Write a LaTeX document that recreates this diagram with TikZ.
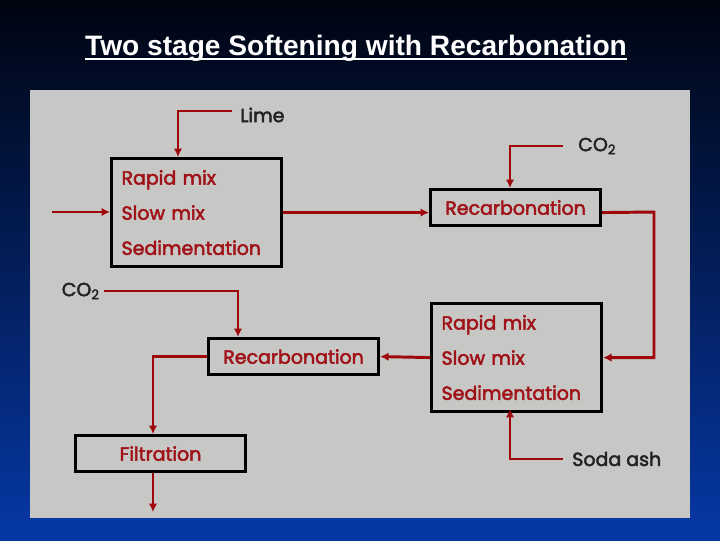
\documentclass[tikz,border=0pt]{standalone}
\usepackage{fontspec}
\setmainfont{Poppins}
\newfontfamily\titlefont{Liberation Sans}
\newfontfamily\stepfont[FakeBold=2.5]{Poppins}
\usetikzlibrary{arrows.meta,positioning}

\definecolor{pipered}{RGB}{158,8,10}
\definecolor{steptext}{RGB}{160,18,24}
\definecolor{panelgray}{RGB}{199,199,197}
\definecolor{slidetop}{RGB}{0,4,16}
\definecolor{slidebottom}{RGB}{6,56,165}
\definecolor{labeltext}{RGB}{35,35,35}

\tikzset{
  unit/.style={draw=black, line width=2.2pt, minimum width=4.25cm, anchor=north west,
    text=steptext, font=\stepfont\fontsize{13.5}{25}\selectfont, inner sep=0pt},
  multiunit/.style={unit, minimum height=2.7cm, align=left, text width=3.75cm},
  singleunit/.style={unit, minimum height=0.9cm, align=center},
  flow/.style={->, pipered, line width=2.1pt},
  feedlabel/.style={text=labeltext, font=\stepfont\fontsize{13.5}{16}\selectfont, inner sep=0pt}
}

\begin{document}
\begin{tikzpicture}[x=0.025cm, y=-0.025cm, >={Latex[length=6pt,width=6pt]}] % 1 unita' = 1 pixel
  \shade[top color=slidetop, bottom color=slidebottom] (0,0) rectangle (720,540);
  \fill[panelgray] (30,90) rectangle (690,518);
  \node[text=white, font=\titlefont\fontsize{20}{24}\selectfont\bfseries, anchor=base, inner sep=0pt] (title) at (356,55)
    {Two stage Softening with Recarbonation};
  \draw[white, line width=1.4pt] ([yshift=-2.5pt]title.base west) -- ([yshift=-2.5pt]title.base east);

  % vasche e unita'
  \node[multiunit] (mixA) at (110,157) {Rapid mix\\Slow mix\\Sedimentation};
  \node[singleunit] (recA) at (429,188) {Recarbonation};
  \node[multiunit] (mixB) at (430,302) {Rapid mix\\Slow mix\\Sedimentation};
  \node[singleunit] (recB) at (207,337) {Recarbonation};
  \node[singleunit] (filt) at (74,434) {Filtration};

  \coordinate (rawIn) at (52,212);
  \coordinate (limeIn) at (232,111);
  \coordinate (limeDrop) at (178,157);
  \coordinate (co2AIn) at (563,146);
  \coordinate (co2ADrop) at (510,188);
  \coordinate (bendA) at (654,212);
  \coordinate (co2BIn) at (104,291);
  \coordinate (co2BDrop) at (238,337);
  \coordinate (filtIn) at (153,434);
  \coordinate (sodaIn) at (563,459);
  \coordinate (sodaUp) at (510,409);
  \coordinate (effluent) at (153,512);

  \node[feedlabel, right=0.2cm of limeIn, yshift=-0.1cm] (lime) {Lime};
  \node[feedlabel, right=0.375cm of co2AIn] (co2A) {CO\textsubscript{2}};
  \node[feedlabel, left=0.1cm of co2BIn] (co2B) {CO\textsubscript{2}};
  \node[feedlabel, right=0.225cm of sodaIn] (soda) {Soda ash};

  \draw[flow] (rawIn) -- (rawIn -| mixA.west);
  \draw[flow] (limeIn) -| (limeDrop);
  \draw[flow] (mixA.east) -- (mixA.east -| recA.west);
  \draw[flow] (co2AIn) -| (co2ADrop);
  \draw[flow] (mixA.east -| recA.east) -- (bendA) |- (mixB.east);
  \draw[flow] (mixB.west) -- (recB.east);
  \draw[flow] (co2BIn) -| (co2BDrop);
  \draw[flow] (recB.west) -| (filtIn);
  \draw[flow] (filtIn |- filt.south) -- (effluent);
  \draw[flow] (sodaIn) -| (sodaUp);
\end{tikzpicture}
\end{document}
